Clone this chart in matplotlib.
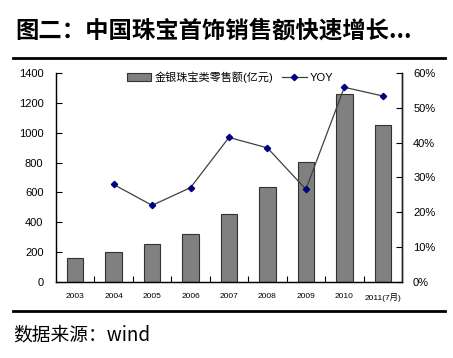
import matplotlib
matplotlib.use('Agg')
from matplotlib import pyplot as plt
from matplotlib.lines import Line2D
from matplotlib.ticker import FuncFormatter, FixedLocator

# data
years = ['2003', '2004', '2005', '2006', '2007', '2008', '2009', '2010', '2011(7月)']
sales = [163, 203, 252, 321, 455, 634, 806, 1259, 1052]
yoy_years = ['2004', '2005', '2006', '2007', '2008', '2009', '2010', '2011(7月)']
yoy = [28.0, 22.0, 27.1, 41.5, 38.5, 26.6, 55.9, 53.4]

left_ticks = [0, 200, 400, 600, 800, 1000, 1200, 1400]
right_ticks = [0, 10, 20, 30, 40, 50, 60]

plt.rcParams['font.family'] = ['Liberation Sans', 'Noto Sans CJK SC', 'DejaVu Sans']

fig = plt.figure(figsize=(4.53, 3.58), dpi=100)
ax = fig.add_axes([0.1236, 0.2123, 0.7638, 0.5838])

x = list(range(len(years)))
bars = ax.bar(x, sales, width=0.43, color='#808080', edgecolor='#333333',
              linewidth=0.8, zorder=2)
ax.set_xlim(-0.5, len(years) - 0.5)
ax.set_ylim(0, 1400)
ax.set_yticks(left_ticks)
ax.tick_params(axis='y', direction='in', length=4, width=0.8, labelsize=8, pad=9)
ax.set_xticks(x)
ax.set_xticklabels(years, fontsize=6)
ax.tick_params(axis='x', which='major', length=0, pad=8)
ax.xaxis.set_minor_locator(FixedLocator([i + 0.5 for i in range(len(years) - 1)]))
ax.tick_params(axis='x', which='minor', direction='in', length=4, width=0.8)
ax.spines['top'].set_visible(False)
for s in ['left', 'bottom', 'right']:
    ax.spines[s].set_linewidth(1.0)
    ax.spines[s].set_color('#222222')

ax2 = ax.twinx()
yx = [years.index(y) for y in yoy_years]
ax2.plot(yx, yoy, color='#404040', linewidth=0.9, marker='D', markersize=3.2,
         markerfacecolor='#000080', markeredgecolor='#000080', zorder=3)
ax2.set_ylim(0, 60)
ax2.set_yticks(right_ticks)
ax2.yaxis.set_major_formatter(FuncFormatter(lambda v, p: '%d%%' % v))
ax2.tick_params(axis='y', direction='in', length=4, width=0.8, labelsize=8, pad=8)
ax2.spines['top'].set_visible(False)
ax2.spines['right'].set_linewidth(1.0)
ax2.spines['right'].set_color('#222222')

# legend
h1 = bars
h2 = Line2D([], [], color='#404040', linewidth=0.9, marker='D', markersize=3.2,
            markerfacecolor='#000080', markeredgecolor='#000080')
fig.legend([h1, h2], ['金银珠宝类零售额(亿元)', 'YOY'], loc='center',
           bbox_to_anchor=(0.508, 0.785), ncol=2, frameon=False, fontsize=8,
           handlelength=2.2, columnspacing=0.8, handletextpad=0.3)

# title, rules and source
fig.text(0.033, 0.916, '图二：中国珠宝首饰销售额快速增长...', fontsize=16.8,
         fontweight='bold', family=['Noto Sans CJK SC', 'DejaVu Sans'],
         ha='left', va='center')
fig.add_artist(Line2D([0.029, 0.982], [0.838, 0.838], color='black', linewidth=2))
fig.add_artist(Line2D([0.029, 0.982], [0.131, 0.131], color='black', linewidth=2))
fig.text(0.029, 0.064, '数据来源：wind', fontsize=13.5,
         family=['Noto Sans CJK SC', 'DejaVu Sans'], ha='left', va='center')

fig.savefig('out.png', dpi=100)
